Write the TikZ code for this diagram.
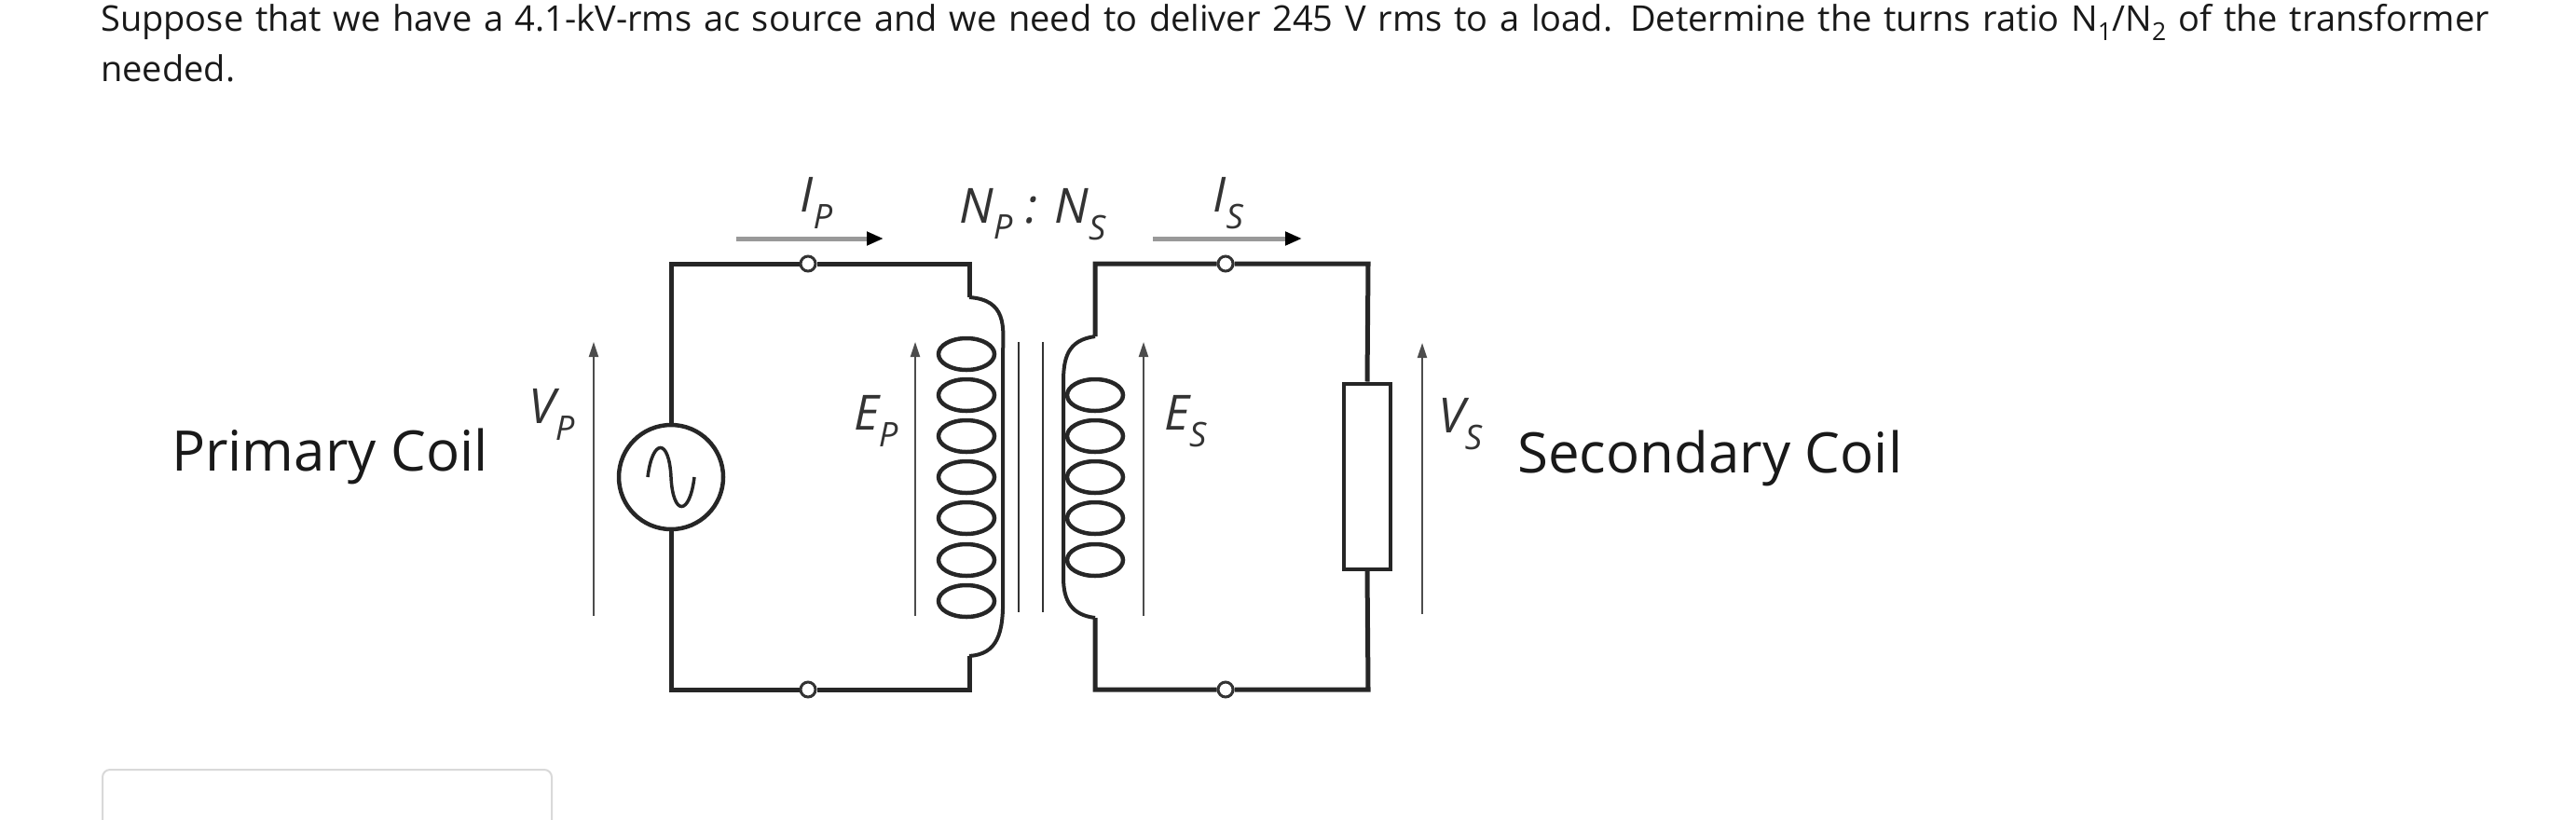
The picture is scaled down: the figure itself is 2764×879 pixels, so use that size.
\documentclass[tikz,border=0pt]{standalone}
\usepackage{fontspec}
\setmainfont{Open Sans}
\usetikzlibrary{arrows.meta}
\begin{document}
\begin{tikzpicture}[x=1pt,y=-1pt,
  wire/.style={line width=5pt,line join=miter,draw=black!85},
  thin/.style={line width=2.5pt,draw=black!80},
  term/.style={circle,draw=black!80,line width=3pt,fill=white,inner sep=0pt,minimum size=16pt},
  varrow/.style={line width=2pt,draw=black!70,-{Triangle[length=16pt,width=10pt]}},
  iarrow/.style={line width=5pt,draw=black!40,-{Triangle[length=18pt,width=14pt,fill=black,color=black]}},
  lab/.style={font=\fontsize{52}{52}\selectfont\itshape,text=black!80,inner sep=0pt},
  big/.style={font=\fontsize{60}{66}\selectfont,text=black!90,inner sep=0pt}]
\useasboundingbox (0,0) rectangle (2764,879);
% question text
\node[anchor=north west,inner sep=0pt,align=left,text width=2610pt,font=\fontsize{38}{54}\selectfont,text=black!90] (q) at (108,4)
 {Suppose that we have a 4.1-kV-rms ac source and we need to deliver 245 V rms to a load. Determine the turns ratio N\textsubscript{1}/N\textsubscript{2} of the transformer needed.};
% answer box
\draw[draw=black!15,line width=2pt,rounded corners=8pt] (110,900) -- (110,826) -- (592,826) -- (592,900);
% primary circuit
\node[circle,draw=black!85,line width=4.5pt,minimum size=112pt,inner sep=0pt] (src) at (720,512) {};
\draw[line width=3.5pt,draw=black!85] (695,512) .. controls (700,470) and (718,470) .. (720,512) .. controls (722,554) and (740,554) .. (745,512);
\coordinate (pa) at (1040,319);
\coordinate (pb) at (1040,704);
\coordinate (pt) at (1040,283);
\coordinate (pbt) at (1040,740);
\node[term] (t1) at (867,283) {};
\node[term] (t2) at (867,740) {};
\draw[wire] (src.north) -- (720,283) -- (t1) -- (pt) -- (pa);
\draw[wire] (src.south) -- (720,740) -- (t2) -- (pbt) -- (pb);
\draw[line width=4pt,draw=black!85] (pa) .. controls (1080,322) and (1077,350) .. (1076,380) -- (1076,640) .. controls (1077,680) and (1070,702) .. (pb);
\foreach \y in {380,424,468,512,556,601,645} \draw[line width=4.5pt,draw=black!85] (1037,\y) ellipse [x radius=30pt,y radius=17pt];
% core
\draw[thin] (1093,367) -- (1093,657);
\draw[thin] (1119,367) -- (1119,657);
% secondary
\coordinate (sa) at (1175,361);
\coordinate (sb) at (1175,663);
\node[term] (t3) at (1315,283) {};
\node[term] (t4) at (1315,740) {};
\node[draw=black!85,line width=4pt,minimum width=50pt,minimum height=199pt,inner sep=0pt] (load) at (1467,511) {};
\draw[wire] (sa) -- (1175,283) -- (t3) -- (1468,283) -- (load.north);
\draw[wire] (sb) -- (1175,740) -- (t4) -- (1468,740) -- (load.south);
\draw[line width=4pt,draw=black!85] (sa) .. controls (1145,365) and (1141,385) .. (1141,410) -- (1141,620) .. controls (1141,645) and (1150,660) .. (sb);
\foreach \y in {424,468,512,556,601} \draw[line width=4.5pt,draw=black!85] (1175,\y) ellipse [x radius=30pt,y radius=17pt];
% current arrows
\coordinate (ip1) at (790,256); \coordinate (ip2) at (948,256);
\coordinate (is1) at (1237,256); \coordinate (is2) at (1397,256);
\draw[iarrow] (ip1) -- (ip2);
\draw[iarrow] (is1) -- (is2);
% voltage arrows
\coordinate (vp1) at (637,661); \coordinate (vp2) at (637,367);
\coordinate (ep1) at (982,661); \coordinate (ep2) at (982,367);
\coordinate (es1) at (1227,661); \coordinate (es2) at (1227,367);
\coordinate (vs1) at (1526,659); \coordinate (vs2) at (1526,368);
\draw[varrow] (vp1) -- (vp2);
\draw[varrow] (ep1) -- (ep2);
\draw[varrow] (es1) -- (es2);
\draw[varrow] (vs1) -- (vs2);
% labels
\node[lab] (lip) at (876,218) {I\textsubscript{P}};
\node[lab] (lis) at (1318,218) {I\textsubscript{S}};
\node[lab] (ln) at (1108,230) {N\textsubscript{P} : N\textsubscript{S}};
\node[lab] (lvp) at (592,445) {V\textsubscript{P}};
\node[lab] (lep) at (940,452) {E\textsubscript{P}};
\node[lab] (les) at (1272,452) {E\textsubscript{S}};
\node[lab] (lvs) at (1567,455) {V\textsubscript{S}};
\node[big] (pc) at (354,490) {Primary Coil};
\node[big,anchor=west] (sc) at (1628,492) {Secondary Coil};
\end{tikzpicture}
\end{document}
